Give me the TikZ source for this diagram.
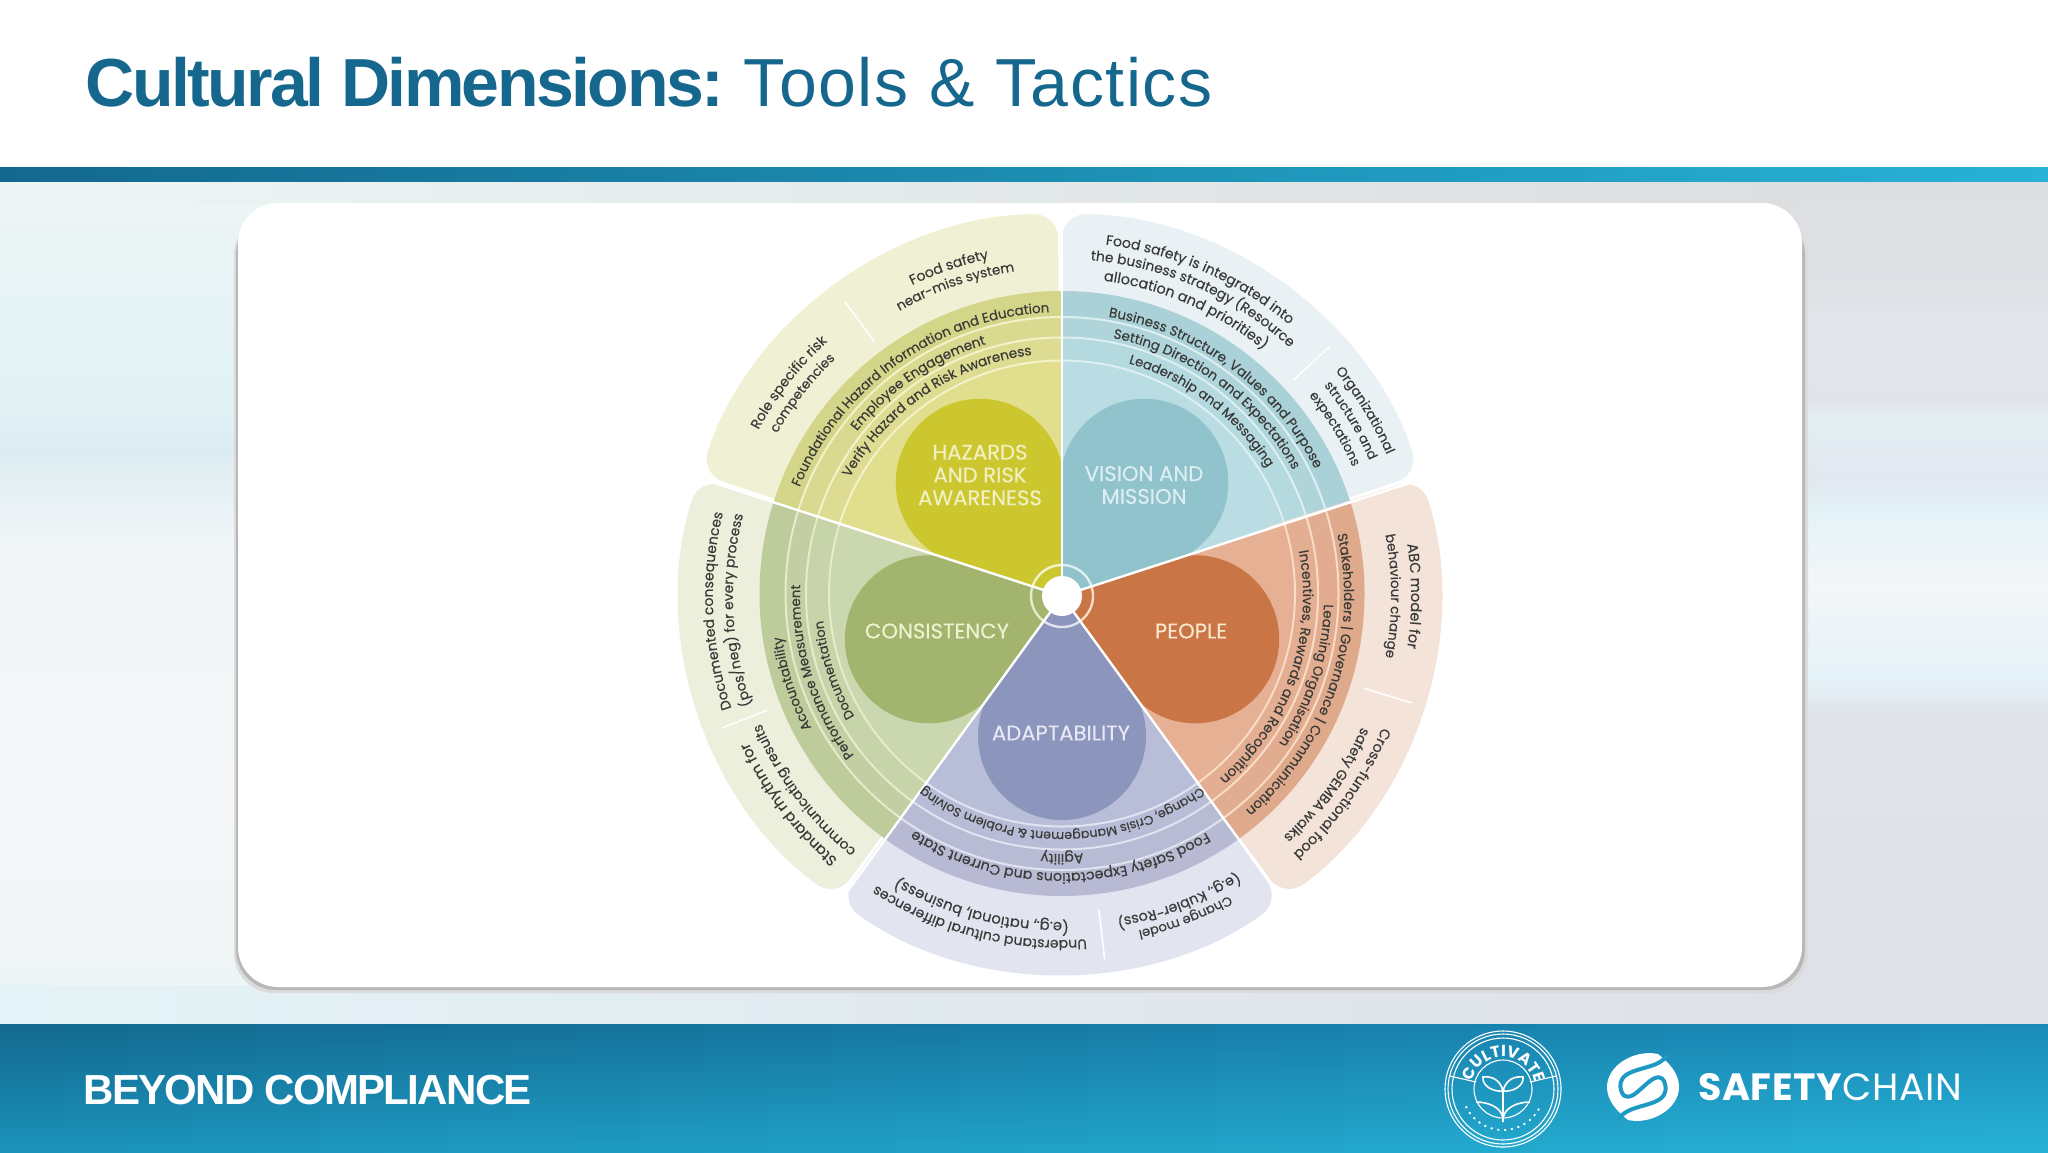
\documentclass[tikz,border=0pt]{standalone}
\usepackage{fontspec}
\usetikzlibrary{decorations.text}
\setmainfont{Liberation Sans}
\newfontfamily\wf{Poppins}
\newfontfamily\wfm{Poppins}[FakeBold=0.22]
\definecolor{lA}{HTML}{EDF5F5}\definecolor{lB}{HTML}{EBF4F4}\definecolor{lC}{HTML}{E6F3F6}
\definecolor{lD}{HTML}{E1F1F4}\definecolor{lE}{HTML}{DCECF1}\definecolor{lF}{HTML}{E3EFF3}
\definecolor{lG}{HTML}{F2F6F8}\definecolor{lH}{HTML}{F5F7F8}\definecolor{lI}{HTML}{F2F6F7}\definecolor{lJ}{HTML}{E4F3F7}
\definecolor{rA}{HTML}{DCDEE0}\definecolor{rB}{HTML}{DFE1E6}\definecolor{rC}{HTML}{E3E7EC}
\definecolor{rD}{HTML}{E2E4EA}\definecolor{rE}{HTML}{E4EEF3}\definecolor{rF}{HTML}{E2E8F0}
\definecolor{rG}{HTML}{E3F2F7}\definecolor{rH}{HTML}{F4F6F8}\definecolor{rI}{HTML}{EEF4F8}
\definecolor{rJ}{HTML}{E4F2F8}\definecolor{rK}{HTML}{E0E4EA}\definecolor{rL}{HTML}{E0E2E8}\definecolor{rM}{HTML}{DFE1E8}
\pgfdeclareverticalshading{leftbg}{100bp}{color(0bp)=(lJ);color(25bp)=(lJ);color(29.4bp)=(lI);color(38.3bp)=(lH);color(53.1bp)=(lG);color(57.3bp)=(lF);color(59bp)=(lE);color(62bp)=(lD);color(67.9bp)=(lC);color(71.5bp)=(lB);color(75bp)=(lA);color(100bp)=(lA)}
\pgfdeclareverticalshading{rightbg}{100bp}{color(0bp)=(rM);color(25bp)=(rM);color(35.3bp)=(rL);color(43.3bp)=(rK);color(45.4bp)=(rJ);color(48.9bp)=(rI);color(51bp)=(rH);color(55.5bp)=(rG);color(57.3bp)=(rF);color(60.9bp)=(rE);color(62bp)=(rD);color(66.8bp)=(rC);color(67.9bp)=(rB);color(75bp)=(rA);color(100bp)=(rA)}
\definecolor{titleblue}{HTML}{15678E}
\definecolor{wtxt}{HTML}{3A3B38}
\definecolor{footTL}{HTML}{13688E}\definecolor{footTR}{HTML}{1A8CBA}
\definecolor{footBL}{HTML}{1B92BA}\definecolor{footBR}{HTML}{27B2D6}
\definecolor{chan}{HTML}{1E99C3}
\definecolor{hO}{HTML}{F0F1D4}\definecolor{hB}{HTML}{D3D588}\definecolor{hC}{HTML}{D9D98F}\definecolor{hD}{HTML}{DDDC92}\definecolor{hI}{HTML}{E1DE8D}\definecolor{hK}{HTML}{CDC72F}\definecolor{hL}{HTML}{F3F2C8}\definecolor{hT}{HTML}{F0F0C4}
\definecolor{vO}{HTML}{E9F1F5}\definecolor{vB}{HTML}{ABD1D8}\definecolor{vC}{HTML}{AFD5DB}\definecolor{vD}{HTML}{B4D9DF}\definecolor{vI}{HTML}{BADDE3}\definecolor{vK}{HTML}{90C3CC}\definecolor{vL}{HTML}{DDEFF2}\definecolor{vT}{HTML}{DCEEF1}
\definecolor{pO}{HTML}{F4E3D9}\definecolor{pB}{HTML}{DFA98C}\definecolor{pC}{HTML}{E1AC8F}\definecolor{pD}{HTML}{E3AE91}\definecolor{pI}{HTML}{E5B094}\definecolor{pK}{HTML}{CA7546}\definecolor{pL}{HTML}{F8DCC5}\definecolor{pT}{HTML}{F8E8D0}
\definecolor{aO}{HTML}{E2E4F0}\definecolor{aB}{HTML}{B8BAD3}\definecolor{aC}{HTML}{B8BBD4}\definecolor{aD}{HTML}{B8BCD6}\definecolor{aI}{HTML}{B8BDD8}\definecolor{aK}{HTML}{8C95BB}\definecolor{aL}{HTML}{E0E3F0}\definecolor{aT}{HTML}{E6E9F5}
\definecolor{cO}{HTML}{EBEFDC}\definecolor{cB}{HTML}{BECB9B}\definecolor{cC}{HTML}{C3CFA2}\definecolor{cD}{HTML}{C7D3A8}\definecolor{cI}{HTML}{CBD7AE}\definecolor{cK}{HTML}{A3B46F}\definecolor{cL}{HTML}{E4ECCB}\definecolor{cT}{HTML}{EEF3D0}
% [#1 size] #2 radius #3 middle angle #4 text
\newcommand\wt[4][7]{\path[decorate,decoration={text along path,text color=wtxt,text align=center,text={|\wfm\fontsize{#1}{8}\selectfont|#4}}] (#3+75:#2) arc[start angle=#3+75,end angle=#3-75,radius=#2];}
\newcommand\sectorfill[3]{%
  \fill[#2O,rounded corners=12pt,shift={(-2,3)}] (#1+35.7:200) -- (#1+35.7:379) arc[start angle=#1+35.7,end angle=#1-35.7,radius=379] -- (#1-35.7:200) -- cycle;
  \draw[white,line width=.75pt] (#3:316) -- (#3:366);
  \begin{scope}
    \clip (0,0) -- (#1+36:600) -- (#1:700) -- (#1-36:600) -- cycle;
    \fill[#2B] (0,2.5) circle[radius=302.5];
    \fill[#2C] (0,2.5) circle[radius=276.5];
    \fill[#2D] (0,2.5) circle[radius=256];
    \fill[#2I] (0,2.5) circle[radius=233];
    \draw[#2L,line width=1pt] (0,2.5) circle[radius=276.5] (0,2.5) circle[radius=256] (0,2.5) circle[radius=233];
    \fill[#2K] (#1:140) circle[radius=84];
    \fill[#2K] (0,0) -- (#1+36.9:112) -- (#1-36.9:112) -- cycle;
    \draw[#2L,line width=1.2pt] (0,0) circle[radius=31];
  \end{scope}
}
\tikzset{
  spoke/.style={white,line width=1.2pt},
  lab/.style={font=\wfm\fontsize{10.6}{11.4}\selectfont,align=center,inner sep=0pt},
  seal/.style={white,line width=0.55pt}
}
\begin{document}
\begin{tikzpicture}[x=0.5pt,y=-0.5pt]
\useasboundingbox (0,0) rectangle (2048,1152);
\fill[white] (0,0) rectangle (2048,1152);
\shade[shading=leftbg] (0,181) rectangle (1030,1024);
\shade[shading=rightbg] (1025,181) rectangle (2048,1024);
\shade[left color=lA,right color=rA] (0,181) rectangle (1802,203);
\shade[left color=lJ,right color=rM] (0,985) rectangle (1802,1024);
\shade[left color=footTL,right color=footBR] (0,167) rectangle (2048,181);
\foreach \i in {0,...,31}{
  \pgfmathsetmacro\p{100-100*(\i+0.5)/32}
  \colorlet{ctop}{footTL!\p!footTR}\colorlet{cbot}{footBL!\p!footBR}
  \shade[top color=ctop,bottom color=cbot] ({\i*64},1024) rectangle ({\i*64+65},1152);
}
% card
\fill[black!14,rounded corners=20pt] (234,215) rectangle (1808,993);
\fill[black!28,rounded corners=20pt] (236,215) rectangle (1805,990);
\fill[white,rounded corners=20pt] (238,203) rectangle (1802,987);
% title
\node[anchor=base west,inner sep=0pt,text=titleblue,font=\addfontfeatures{LetterSpace=-3.7}\bfseries\fontsize{34}{36}\selectfont] (t1) at (85,106) {Cultural Dimensions:};
\node[anchor=base west,inner sep=0pt,text=titleblue,font=\addfontfeatures{LetterSpace=2.4}\fontsize{34}{36}\selectfont] (t2) at (743,106) {Tools \& Tactics};
\node[anchor=base west,inner sep=0pt,text=white,font=\addfontfeatures{LetterSpace=-4}\bfseries\fontsize{21}{24}\selectfont] (bc) at (83,1104) {BEYOND COMPLIANCE};
% wheel
\begin{scope}[shift={(1062,596)},y=0.5pt]
\sectorfill{126}{h}{126.4}
\sectorfill{54}{v}{43}
\sectorfill{-18}{p}{-17}
\sectorfill{-90}{a}{-83.3}
\sectorfill{198}{c}{201.2}
\foreach \a in {90,18,-54,-126,162} \draw[spoke] (\a:19) -- (\a:382);
\fill[white] (0,0) circle[radius=20];
% hazards
\wt[6.7]{284}{125}{Foundational Hazard Information and Education}
\wt[6.8]{263}{124}{Employee Engagement}
\wt[6.8]{243}{124}{Verify Hazard and Risk Awareness}
\wt[7]{345}{109}{Food safety}
\wt[6.75]{328}{109}{near-miss system}
\wt[6.9]{346}{142}{Role specific risk}
\wt[6.6]{328}{142}{competencies}
% vision
\wt[6.8]{283}{53.6}{Business Structure, Values and Purpose}
\wt[6.75]{263}{53.7}{Setting Direction and Expectations}
\wt[6.6]{242}{53}{Leadership and Messaging}
\wt[7]{354}{66.5}{Food safety is integrated into}
\wt[6.9]{337}{66.3}{the business strategy (Resource}
\wt[7.2]{318}{66.6}{allocation and priorities)}
\wt[6.7]{354}{31.5}{Organizational}
\wt[6.5]{336}{31.3}{structure and}
\wt[6.5]{318}{31.5}{expectations}
% people
\wt[6.8]{282}{-18.4}{Stakeholders {|} Governance {|} Communication}
\wt[6.7]{262}{-18}{Learning Organisation}
\wt[6.9]{241}{-19.2}{Incentives, Rewards and Recognition}
\wt[7.3]{349}{0}{ABC model for}
\wt[6.7]{329}{0}{behaviour change}
\wt[7.1]{346}{-35.2}{Cross-functional food}
\wt[6.9]{327}{-35.5}{safety GEMBA walks}
% adaptability
\wt[7.1]{277}{-90.4}{Food Safety Expectations and Current State}
\wt[7]{258}{-90}{Agility}
\wt[6.3]{236}{-90}{Change, Crisis Management {\&} Problem Solving}
\wt[6.5]{343}{-69}{Change model}
\wt[7.1]{327}{-69}{(e.g., Kubler-Ross)}
\wt[7]{344}{-104.3}{Understand cultural differences}
\wt[7.4]{326}{-104.5}{(e.g., national, business)}
% consistency
\wt[6.7]{283}{198}{Accountability}
\wt[6.65]{262}{197.5}{Performance Measurement}
\wt[6.5]{240}{198}{Documentation}
\wt[7]{349}{182.5}{Documented consequences}
\wt[6.9]{329}{182.5}{(pos/neg) for every process}
\wt[7.3]{346}{217.3}{Standard rhythm for}
\wt[6.9]{327}{217}{communicating results}
\end{scope}
\node[lab,text=hT] (hz) at (980,475) {HAZARDS\\AND RISK\\AWARENESS};
\node[lab,text=vT] (vi) at (1144,485) {VISION AND\\MISSION};
\node[lab,text=pT] (pe) at (1191,631) {PEOPLE};
\node[lab,text=aT] (ad) at (1061,733) {ADAPTABILITY};
\node[lab,text=cT] (co) at (937,631) {CONSISTENCY};
% cultivate seal
\begin{scope}[shift={(1503,1089)},y=0.5pt]
\draw[seal] (0,0) circle[radius=58] (0,0) circle[radius=55] (0,0) circle[radius=51] (0,0) circle[radius=29];
\draw[seal] (-53,13) -- (-27,7) (53,13) -- (27,7);
\draw[seal,line width=0.9pt,dash pattern=on 1pt off 2.4pt] (205:41) arc[start angle=205,end angle=335,radius=41];
\path[decorate,decoration={text along path,text color=white,text align={fit to path},text={|\wf\bfseries\fontsize{8}{9}\selectfont|CULTIVATE}}] (166:32) arc[start angle=166,end angle=14,radius=32];
\draw[seal,line width=0.8pt] (0,-33) -- (0,0)
 (0,-2) .. controls (-3,10) and (-12,13) .. (-20,12) .. controls (-21,3) and (-10,-3) .. (0,-2)
 (0,-2) .. controls (3,10) and (12,13) .. (20,12) .. controls (21,3) and (10,-3) .. (0,-2)
 (0,-29) .. controls (-2,-18) and (-15,-13) .. (-27,-13)
 (0,-29) .. controls (2,-18) and (15,-13) .. (27,-13);
\end{scope}
% safetychain mark
\begin{scope}[shift={(1643,1087)},y=0.5pt]
\fill[white] (15,33) .. controls (-8,38) and (-36,22) .. (-36,0) .. controls (-36,-14) and (-26,-24) .. (-15,-33) .. controls (8,-38) and (36,-22) .. (36,0) .. controls (36,14) and (26,24) .. (15,33) -- cycle;
\draw[chan,line width=2pt,line cap=round] plot[smooth,tension=0.7] coordinates {(24,31) (13,23) (-17,12) (-22,-3) (-12,-9) (12,9) (22,3) (17,-12) (-13,-23) (-24,-31)};
\end{scope}
\node[anchor=base west,inner sep=0pt,text=white,font=\wf\addfontfeatures{LetterSpace=1.5}\fontsize{19}{20}\selectfont] (sc) at (1698,1100) {\textbf{SAFETY}CHAIN};
\end{tikzpicture}
\end{document}
